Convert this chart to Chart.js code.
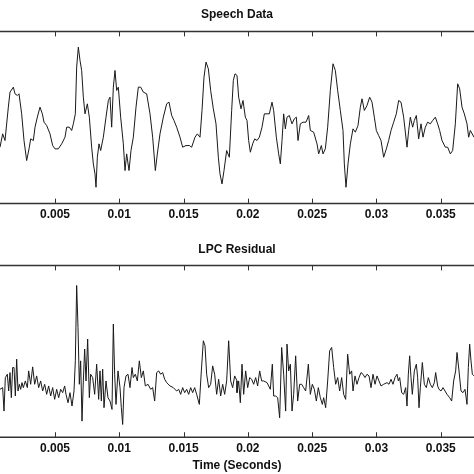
<!DOCTYPE html>
<html>
<head>
<meta charset="utf-8">
<script src="https://cdn.jsdelivr.net/npm/chart.js@4/dist/chart.umd.min.js"></script>
<style>
  html, body { margin: 0; padding: 0; background: #fff; overflow: hidden; }
  .box { position: absolute; left: 0; width: 474px; }
</style>
</head>
<body>
<div class="box" style="top:0;height:218px"><canvas id="speech"></canvas></div>
<div class="box" style="top:232px;height:241px"><canvas id="residual"></canvas></div>
<script>
// sample rate of the traces (samples per second); first visible sample is n = 28
const sampleRate = 38580;
const tickValues = [0.005, 0.01, 0.015, 0.02, 0.025, 0.03, 0.035];

// Speech Data: [sample index, amplitude]
const speechSamples = [
  [28,-89],[36,-49],[43,-69],[53,31],[58,76],[68,91],[73,71],[80,66],[85,71],[93,11],[100,-69],[108,-129],[116,-89],[120,-64],[128,-69],[133,-29],[140,1],[148,31],[155,11],[160,-14],[168,-24],[178,-49],[186,-84],[193,-94],[203,-94],[213,-79],[223,-59],[228,-29],[236,-29],[243,-39],[248,-19],[254,11],[258,151],[263,211],[268,171],[273,141],[278,61],[283,11],[290,41],[296,1],[303,-89],[308,-139],[313,-169],[316,-209],[320,-119],[325,-79],[330,-99],[338,-59],[346,1],[353,51],[358,61],[363,-29],[368,91],[373,141],[378,81],[383,91],[390,1],[398,-79],[403,-159],[408,-109],[415,-159],[421,-99],[428,-59],[436,31],[443,91],[450,91],[458,76],[468,71],[478,11],[486,-59],[494,-159],[500,-109],[508,-49],[518,1],[528,41],[535,46],[543,6],[550,-9],[558,-29],[568,-59],[576,-89],[586,-84],[596,-84],[603,-89],[613,-59],[620,-49],[628,-59],[634,21],[640,121],[646,166],[653,146],[660,81],[668,26],[676,-19],[683,-119],[688,-169],[694,-199],[700,-159],[708,-99],[716,-119],[723,21],[728,111],[733,131],
  [739,126],[744,61],[751,26],[757,51],[764,1],[769,-9],[774,-69],[779,-104],[786,-79],[792,-64],[799,-69],[806,-59],[814,-29],[821,11],[829,11],[836,11],[844,46],[849,21],[857,-59],[864,-109],[869,-139],[874,-69],[879,11],[884,-34],[889,1],[896,6],[904,-19],[911,-4],[917,1],[922,-69],[929,-19],[937,-14],[946,-14],[954,6],[959,-39],[969,-44],[979,-79],[984,-109],[992,-84],[997,-109],[1004,-94],[1011,-29],[1019,81],[1027,161],[1034,141],[1041,81],[1049,21],[1057,-39],[1061,-139],[1066,-209],[1072,-139],[1079,-79],[1087,-34],[1094,-44],[1102,-24],[1109,31],[1114,56],[1121,21],[1129,36],[1137,61],[1144,46],[1151,1],[1157,-39],[1164,-54],[1171,-69],[1179,-119],[1187,-94],[1194,-69],[1201,-39],[1209,-14],[1217,11],[1224,51],[1231,46],[1239,1],[1249,-89],[1254,-39],[1259,1],[1266,-29],[1271,-9],[1277,6],[1284,-64],[1291,-19],[1297,-59],[1304,-29],[1311,-14],[1319,-19],[1326,-9],[1334,1],[1341,-19],[1347,-39],[1354,-69],[1364,-89],[1371,-89],[1379,-109],[1386,-99],[1394,-19],[1401,101],[1407,86],[1414,31],[1421,11],[1429,-19],[1434,-59],[1439,-39],[1450,-59]
];

// LPC Residual: [sample index, amplitude]
const residualSamples = [
  [28,-15],[36,-10],[40,-80],[44,20],[50,30],[54,-20],[58,35],[62,-40],[66,50],[70,50],[74,-35],[78,75],[82,-20],[86,0],[90,-15],[94,5],[98,-10],[104,10],[110,-10],[114,40],[120,0],[126,52],[132,0],[138,25],[144,-10],[150,10],[156,-20],[162,0],[168,-30],[174,-5],[180,-35],[186,-10],[192,-45],[198,-15],[204,-40],[210,-15],[216,-25],[222,-5],[226,-30],[232,-55],[238,-25],[244,-65],[250,-20],[254,70],[258,295],[262,170],[266,0],[270,70],[274,-110],[278,10],[282,105],[286,10],[291,135],[296,-40],[300,30],[306,20],[312,-30],[318,60],[324,-45],[328,40],[332,-50],[336,45],[340,-70],[346,10],[352,-40],[358,-50],[364,-75],[368,180],[372,30],[376,-60],[382,40],[388,-10],[392,-70],[396,-120],[400,-10],[406,25],[412,30],[418,-10],[424,50],[428,20],[434,30],[440,10],[446,70],[452,20],[458,40],[464,-5],[472,0],[480,-15],[486,-10],[492,-50],[498,35],[504,40],[510,30],[516,35],[522,15],[528,5],[538,-5],[548,-10],[558,-20],[564,-15],[570,-30],[576,-10],[582,-25],[588,-15],[594,-30],[600,-10],[606,-25],[612,-10],[618,-30],[626,-60],[632,40],[638,130],[643,115],[648,30],[654,-10],[660,0],[666,55],[672,30],[678,-30],[684,15],[690,-35],[696,0],[702,-30],[708,10],[714,130],[720,10],[726,-10],[732,25],[739,10],
  [739,-25],[744,10],[749,-55],[754,60],[759,-30],[765,40],[771,-10],[777,20],[783,15],[789,0],[795,20],[801,-5],[807,40],[813,10],[819,10],[829,5],[839,-15],[845,60],[849,-35],[855,-35],[861,-40],[867,-100],[873,110],[879,30],[885,-80],[889,120],[894,40],[899,60],[904,-80],[909,-30],[915,85],[921,-50],[927,0],[933,0],[939,-10],[945,-20],[953,60],[959,-30],[965,0],[971,-15],[977,-50],[983,-10],[989,-40],[995,-60],[999,-40],[1005,-70],[1011,10],[1017,100],[1023,110],[1029,50],[1035,0],[1041,20],[1047,-20],[1053,20],[1059,-30],[1065,-45],[1071,90],[1077,30],[1083,40],[1087,-20],[1093,25],[1099,0],[1105,20],[1111,35],[1117,30],[1123,20],[1129,30],[1135,25],[1141,-10],[1147,30],[1153,0],[1159,25],[1165,10],[1171,-5],[1179,0],[1189,5],[1195,0],[1201,15],[1207,0],[1213,20],[1219,30],[1223,10],[1227,20],[1233,-25],[1239,-30],[1245,-10],[1249,-65],[1253,30],[1257,85],[1261,20],[1265,-30],[1271,40],[1277,60],[1281,20],[1285,-70],[1289,-10],[1295,65],[1301,0],[1307,-10],[1313,20],[1319,0],[1325,-10],[1331,5],[1335,35],[1341,-5],[1345,-15],[1351,-20],[1357,-10],[1363,-20],[1369,-30],[1377,-40],[1383,-50],[1389,10],[1395,40],[1399,95],[1405,40],[1411,-20],[1417,-25],[1423,-15],[1429,-60],[1433,50],[1437,120],[1441,70],[1445,30],[1450,25]
];

const toPoints = samples => samples.map(([n, a]) => ({ x: n / sampleRate, y: a }));

// draws top/bottom frame lines and inward tick marks
const framePlugin = {
  id: 'frame',
  afterDraw(chart) {
    const { ctx, chartArea: a, scales: { x } } = chart;
    ctx.save();
    ctx.strokeStyle = '#333';
    ctx.lineWidth = 1.5;
    ctx.beginPath();
    ctx.moveTo(a.left, a.top); ctx.lineTo(a.right, a.top);
    ctx.moveTo(a.left, a.bottom); ctx.lineTo(a.right, a.bottom);
    ctx.stroke();
    ctx.lineWidth = 1;
    ctx.beginPath();
    tickValues.forEach(v => {
      const px = Math.round(x.getPixelForValue(v)) + 0.5;
      ctx.moveTo(px, a.top); ctx.lineTo(px, a.top + 5);
      ctx.moveTo(px, a.bottom); ctx.lineTo(px, a.bottom - 5);
    });
    ctx.stroke();
    ctx.restore();
  }
};

const buildChart = (canvas, samples, title, yMin, yMax, titlePad, withLabel) => {
  new Chart(canvas, {
    type: 'line',
    data: {
      datasets: [{
        data: toPoints(samples),
        borderColor: '#1a1a1a',
        borderWidth: 1,
        pointRadius: 0,
        tension: 0,
      }],
    },
    plugins: [framePlugin],
    options: {
      responsive: true,
      maintainAspectRatio: false,
      animation: false,
      layout: { padding: 0 },
      plugins: {
        legend: { display: false },
        tooltip: { enabled: false },
        title: {
          display: true,
          text: title,
          color: '#111',
          font: { family: 'Liberation Sans', size: 12, weight: 'bold' },
          padding: titlePad,
        },
      },
      scales: {
        x: {
          type: 'linear',
          min: 28 / sampleRate,
          max: 1450 / sampleRate,
          afterBuildTicks: axis => { axis.ticks = tickValues.map(value => ({ value })); },
          grid: { display: false },
          border: { display: false },
          ticks: {
            autoSkip: false,
            maxRotation: 0,
            padding: -4,
            color: '#111',
            font: { family: 'Liberation Sans', size: 12, weight: 'bold' },
            callback: v => String(+v.toFixed(3)),
          },
          title: {
            display: withLabel,
            text: 'Time (Seconds)',
            color: '#111',
            font: { family: 'Liberation Sans', size: 12, weight: 'bold' },
            padding: { top: 7, bottom: 0 },
          },
        },
        y: { display: false, min: yMin, max: yMax },
      },
    },
  });
};

buildChart(document.getElementById('speech'), speechSamples, 'Speech Data', -258, 258, { top: 7, bottom: 10 }, false);
buildChart(document.getElementById('residual'), residualSamples, 'LPC Residual', -158, 355, { top: 10, bottom: 9 }, true);
</script>
</body>
</html>
